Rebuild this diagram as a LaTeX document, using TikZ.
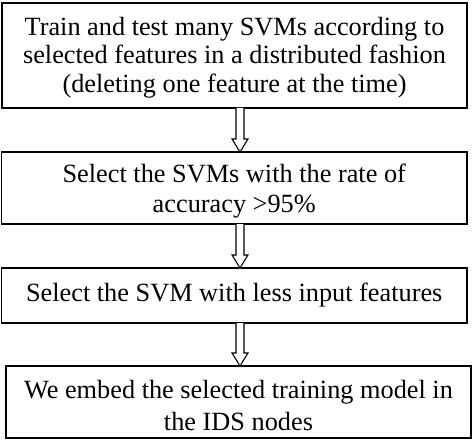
\documentclass[tikz,border=0pt]{standalone}
\usepackage{fontspec}
\setmainfont{Liberation Serif}
\usetikzlibrary{calc}
\begin{document}
\begin{tikzpicture}[x=1pt,y=1pt,
  stepbox/.style={draw=black, line width=1.6pt, inner sep=0pt, outer sep=0pt},
  steptext/.style={align=center, inner sep=0pt, text=black},
  hollowarrow/.style={draw=black, line width=1.1pt, fill=white, line join=miter}]
\useasboundingbox (0,0) rectangle (474,440);
\node[stepbox, minimum width=465pt, minimum height=105pt,
  label={[steptext, font=\fontsize{26.3}{28.5}\selectfont, yshift=-2pt]center:{Train and test many SVMs according to\\selected features in a distributed fashion\\(deleting one feature at the time)}}]
  (b1) at (234.5,384.5) {};
\node[stepbox, minimum width=465.5pt, minimum height=72pt,
  label={[steptext, font=\fontsize{26.3}{30}\selectfont, yshift=-3pt]center:{Select the SVMs with the rate of\\accuracy >95\%}}]
  (b2) at (234.25,252) {};
\node[stepbox, minimum width=465.5pt, minimum height=55pt,
  label={[steptext, font=\fontsize{26.3}{30}\selectfont]center:{Select the SVM with less input features}}]
  (b3) at (234.25,144.5) {};
\node[stepbox, minimum width=465pt, minimum height=72pt,
  label={[steptext, font=\fontsize{26.3}{32}\selectfont, yshift=-4pt]center:{We embed the selected training model in\\the IDS nodes}}]
  (b4) at (238.5,38) {};
\foreach \a/\b in {b1/b2,b2/b3,b3/b4}{
  \draw[hollowarrow] let \p1=(\a.south), \p2=(\b.north) in
    (236pt,\y1) -- (236pt,{\y2+13pt}) -- (232pt,{\y2+13pt}) -- (240pt,\y2)
    -- (248pt,{\y2+13pt}) -- (244pt,{\y2+13pt}) -- (244pt,\y1);
}
\end{tikzpicture}
\end{document}
